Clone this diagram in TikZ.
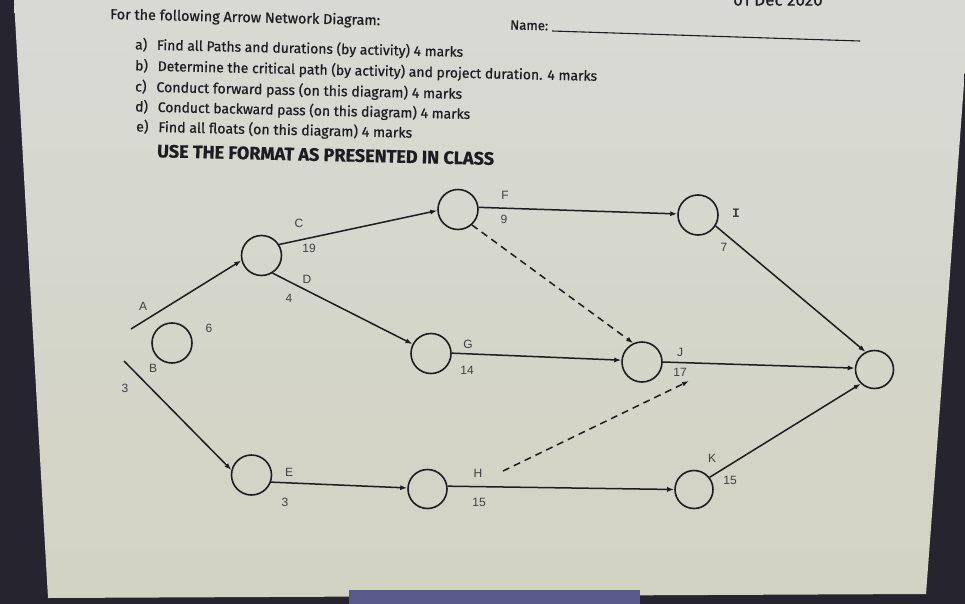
\documentclass[tikz,border=0pt]{standalone}
\usepackage{fontspec}
\setmainfont{DejaVu Sans}
\newfontfamily\hdrfont[FakeBold=0.6]{Fira Sans}
\newfontfamily\lblfont{Liberation Sans}
\newfontfamily\ifontfam{Liberation Mono}
\usetikzlibrary{arrows.meta}
\definecolor{ink}{HTML}{1C1C22}
\definecolor{frame}{HTML}{25242F}
\definecolor{pagetop}{HTML}{D8D9D4}
\definecolor{pagebot}{HTML}{D2D3C2}
\definecolor{barcol}{HTML}{585A8C}
\newcommand{\fitw}[2]{\resizebox{#1}{!}{#2}}
\begin{document}
\begin{tikzpicture}[x=1pt,y=-1pt,
  ev/.style={circle, draw=ink, line width=1.6pt, minimum size=40pt, inner sep=0pt},
  act/.style={draw=ink, line width=1.5pt, -{Latex[length=7pt,width=5pt]}},
  dum/.style={act, dash pattern=on 7pt off 5pt},
  lbl/.style={font=\lblfont\fontsize{12}{12}\selectfont, text=ink!85, inner sep=0pt},
  hdr/.style={anchor=west, inner sep=0pt, rotate=-1.3, text=ink, font=\hdrfont}]
\useasboundingbox (0,0) rectangle (965,604);
% screen frame and page
\fill[frame] (0,0) rectangle (965,604);
\shade[top color=pagetop, bottom color=pagebot]
  (14,0) -- (965,0) -- (965,70) -- (948,300) -- (926,594) -- (48,598) -- (31,300) -- cycle;
\fill[barcol] (349,590) rectangle (640,604);
% date (cut off at top edge, as in the photo)
\node[anchor=south, inner sep=0pt, text=ink, font=\hdrfont\fontsize{17}{17}\selectfont] (date) at (778,6) {01 Dec 2020};
% header
\node[hdr] (title) at (110,15) {\fitw{270pt}{For the following Arrow Network Diagram:}};
\node[hdr] (name) at (510,25) {\fitw{38pt}{Name:}};
\coordinate (nl1) at (552,31);
\coordinate (nl2) at (860,41);
\draw[ink, line width=1.1pt] (nl1) -- (nl2);
\node[hdr] (qa) at (135,45) {\fitw{328pt}{a)\hspace{7pt}Find all Paths and durations (by activity) 4 marks}};
\node[hdr] (qb) at (135,66) {\fitw{462pt}{b)\hspace{7pt}Determine the critical path (by activity) and project duration. 4 marks}};
\node[hdr] (qc) at (135,87) {\fitw{327pt}{c)\hspace{7pt}Conduct forward pass (on this diagram) 4 marks}};
\node[hdr] (qd) at (135,107) {\fitw{335pt}{d)\hspace{7pt}Conduct backward pass (on this diagram) 4 marks}};
\node[hdr] (qe) at (136,127) {\fitw{276pt}{e)\hspace{7pt}Find all floats (on this diagram) 4 marks}};
\node[hdr, font=\hdrfont] (use) at (157,151) {\fitw{337pt}{\bfseries USE THE FORMAT AS PRESENTED IN CLASS}};
% events
\node[ev] (n1) at (261.5,255.5) {};
\node[ev] (nB) at (172,343) {};
\node[ev] (nT) at (458,209.5) {};
\node[ev] (nG) at (431,353.5) {};
\node[ev] (nI) at (698,215) {};
\node[ev] (nJ) at (642,362) {};
\node[ev, minimum size=38pt] (nEnd) at (874.5,369.5) {};
\node[ev] (nE) at (251.5,475) {};
\node[ev, minimum size=39pt] (nH) at (427.5,489) {};
\node[ev, minimum size=38pt] (nK) at (694,489.5) {};
% free ends
\coordinate (aStart) at (131,329);
\coordinate (bStart) at (124,361);
\coordinate (d2s) at (503,471);
\coordinate (d2e) at (689,381);
% activities
\draw[act] (aStart) -- (n1.194);
\draw[act] (bStart) -- (nE.166);
\draw[act] (n1.32) -- (nT.183);
\draw[act] (n1.302) -- (nG.153);
\draw[act] (nT.6) -- (nI.177);
\draw[dum] (nT.312) -- (nJ.115);
\draw[act] (nG.1) -- (nJ.175);
\draw[act] (nJ.0) -- (nEnd.176);
\draw[act] (nI.328) -- (nEnd.117);
\draw[act] (nE.340) -- (nH.177);
\draw[act] (nH.8) -- (nK.180);
\draw[act] (nK.38) -- (nEnd.226);
\draw[dum] (d2s) -- (d2e);
% labels
\node[lbl] (lA) at (143,306) {A};
\node[lbl] (l6) at (209,328) {6};
\node[lbl] (lB) at (153,368) {B};
\node[lbl] (l3) at (125,388) {3};
\node[lbl] (lC) at (299,223) {C};
\node[lbl] (l19) at (309,248) {19};
\node[lbl] (lD) at (307,279) {D};
\node[lbl] (l4) at (289,298) {4};
\node[lbl] (lF) at (505,195) {F};
\node[lbl] (l9) at (504,219) {9};
\node[lbl] (lG) at (468,344) {G};
\node[lbl] (l14) at (467,370) {14};
\node[lbl] (lJ) at (680,352) {J};
\node[lbl] (l17) at (680,372) {17};
\node[lbl, font=\ifontfam\bfseries\fontsize{13}{13}\selectfont] (lI) at (736,213) {I};
\node[lbl] (l7) at (724,247) {7};
\node[lbl] (lK) at (712,458) {K};
\node[lbl] (l15k) at (730,480) {15};
\node[lbl] (lE) at (289,472) {E};
\node[lbl] (l3e) at (285,502) {3};
\node[lbl] (lH) at (478,473) {H};
\node[lbl] (l15h) at (479,502) {15};
\end{tikzpicture}
\end{document}
